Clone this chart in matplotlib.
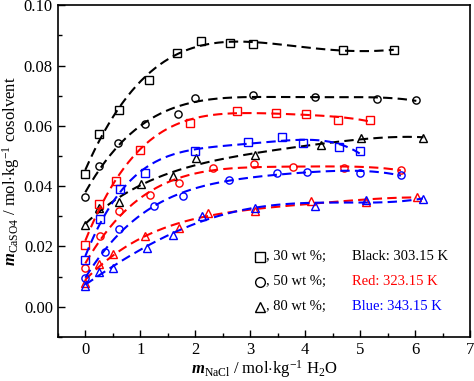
import numpy as np
import matplotlib.pyplot as plt

'''CaSO4 solubility vs NaCl molality, 3 cosolvent contents x 3 temperatures'''

plt.rcParams['font.family'] = ['Liberation Serif', 'DejaVu Serif']
plt.rcParams['mathtext.fontset'] = 'custom'
plt.rcParams['mathtext.rm'] = 'Liberation Serif'
plt.rcParams['mathtext.it'] = 'Liberation Serif:italic'
plt.rcParams['mathtext.bf'] = 'Liberation Serif:italic:bold'

# black = 303.15 K, red = 323.15 K, blue = 343.15 K
# s = 30 wt %, o = 50 wt %, ^ = 80 wt %
x_black_s = [0.0, 0.24, 0.61, 1.15, 1.66, 2.10, 2.64, 3.05, 4.68, 5.61]
y_black_s = [0.0440, 0.0572, 0.0654, 0.0753, 0.0843, 0.0882, 0.0876, 0.0871, 0.0852, 0.0852]
x_black_o = [0.0, 0.24, 0.59, 1.09, 1.68, 2.0, 3.05, 4.17, 5.3, 6.02]
y_black_o = [0.0364, 0.0467, 0.0544, 0.0605, 0.0641, 0.0693, 0.0701, 0.0696, 0.0690, 0.0685]
x_black_t = [0.0, 0.25, 0.61, 1.01, 1.6, 2.02, 3.08, 4.28, 5.01, 6.15]
y_black_t = [0.0272, 0.0327, 0.0349, 0.0407, 0.0434, 0.0492, 0.0502, 0.0536, 0.0561, 0.0561]

x_red_s = [0.0, 0.24, 0.55, 1.0, 1.9, 2.76, 3.46, 4.02, 4.6, 5.18]
y_red_s = [0.0204, 0.0341, 0.0418, 0.0520, 0.0610, 0.0651, 0.0643, 0.0638, 0.0621, 0.0618]
x_red_o = [0.0, 0.26, 0.62, 1.18, 1.7, 2.32, 3.06, 3.78, 4.7, 5.74]
y_red_o = [0.0127, 0.0235, 0.0316, 0.0370, 0.0410, 0.0459, 0.0473, 0.0465, 0.0459, 0.0454]
x_red_t = [0.0, 0.24, 0.51, 1.09, 1.7, 2.23, 3.08, 4.1, 5.1, 6.03]
y_red_t = [0.0078, 0.0143, 0.0176, 0.0235, 0.0261, 0.0311, 0.0319, 0.0352, 0.0347, 0.0365]

x_blue_s = [0.0, 0.26, 0.63, 1.09, 1.99, 2.96, 3.57, 3.95, 4.62, 4.99]
y_blue_s = [0.0154, 0.0290, 0.0390, 0.0445, 0.0517, 0.0546, 0.0564, 0.0544, 0.0530, 0.0515]
x_blue_o = [0.0, 0.35, 0.62, 1.24, 1.77, 2.61, 3.49, 4.03, 4.99, 5.74]
y_blue_o = [0.0094, 0.0180, 0.0259, 0.0333, 0.0366, 0.0421, 0.0443, 0.0447, 0.0445, 0.0437]
x_blue_t = [0.0, 0.24, 0.5, 1.12, 1.6, 2.13, 3.08, 4.17, 5.1, 6.14]
y_blue_t = [0.0070, 0.0114, 0.0127, 0.0195, 0.0239, 0.0300, 0.0327, 0.0333, 0.0355, 0.0357]

series = [
    (x_black_s, y_black_s, 'black', 's'),
    (x_black_o, y_black_o, 'black', 'o'),
    (x_black_t, y_black_t, 'black', '^'),
    (x_red_s, y_red_s, 'red', 's'),
    (x_red_o, y_red_o, 'red', 'o'),
    (x_red_t, y_red_t, 'red', '^'),
    (x_blue_s, y_blue_s, 'blue', 's'),
    (x_blue_o, y_blue_o, 'blue', 'o'),
    (x_blue_t, y_blue_t, 'blue', '^'),
]

leg_marks = ['s', 'o', '^']
leg_wt = ['30 wt %;', '50 wt %;', '80 wt %;']
leg_temp = ['Black: 303.15 K', 'Red: 323.15 K', 'Blue: 343.15 K']
leg_col = ['black', 'red', 'blue']


def drawSeries(ax, xd, yd, col, mk):
    xd = np.array(xd)
    yd = np.array(yd)
    # smooth fitted trend line through the points
    coef = np.polyfit(xd, yd, 4)
    xs = np.linspace(xd.min(), xd.max(), 200)
    ax.plot(xs, np.polyval(coef, xs), color=col, lw=1.5, dashes=(4.5, 2.5))
    ax.plot(xd, yd, linestyle='none', marker=mk, ms=5.2, mfc='none',
            mec=col, mew=1.0)


fig = plt.figure(figsize=(4.74, 3.81), dpi=100)
ax = fig.add_axes([0.122, 0.116, 0.870, 0.870])

for xd, yd, col, mk in series:
    drawSeries(ax, xd, yd, col, mk)

ax.set_xlim(-0.5, 7)
ax.set_ylim(-0.01, 0.10)
ax.set_xticks(np.arange(0, 8, 1))
ax.set_xticks(np.arange(-0.5, 7.0, 0.5), minor=True)
ax.set_yticks(np.arange(0, 0.101, 0.02))
ax.set_yticks(np.arange(-0.01, 0.10, 0.01), minor=True)
ax.yaxis.set_major_formatter(plt.FormatStrFormatter('%.2f'))
ax.tick_params(which='both', direction='in', top=False, right=False,
               labelsize=12, width=1.0)
ax.tick_params(which='major', length=5)
ax.tick_params(which='minor', length=3)
for sp in ax.spines.values():
    sp.set_linewidth(1.2)

ax.set_xlabel(r'$\mathbf{m}_{\mathrm{NaCl}}$ / mol$\cdot$kg$^{\mathrm{-1}}$ H$_{\mathrm{2}}$O',
              fontsize=12, labelpad=0)
ax.set_ylabel(r'$\mathbf{m}_{\mathrm{CaSO4}}$ / mol$\cdot$kg$^{\mathrm{-1}}$ cosolvent',
              fontsize=12, labelpad=1)

# legend block written as text
for i in range(3):
    yy = 0.0166 - i * 0.0083
    ax.plot([3.17], [yy], linestyle='none', marker=leg_marks[i], ms=7,
            mfc='none', mec='black', mew=1.0)
    ax.text(3.28, yy, ', ' + leg_wt[i], fontsize=10.5, va='center', ha='left')
    ax.text(4.85, yy, leg_temp[i], fontsize=10.5, va='center', ha='left',
            color=leg_col[i])

fig.savefig('out.png', dpi=100)
